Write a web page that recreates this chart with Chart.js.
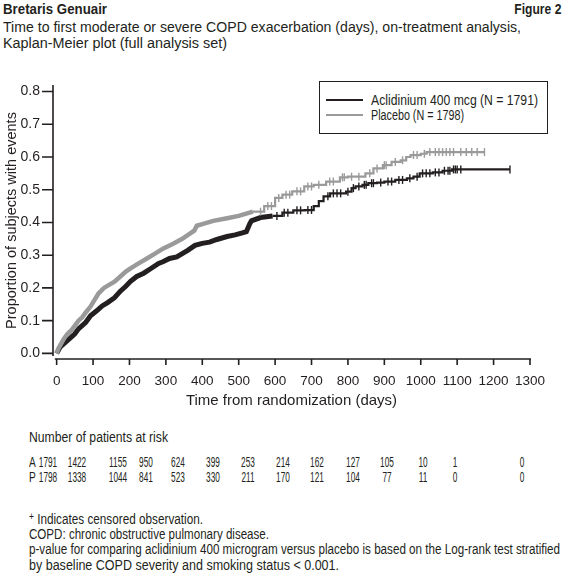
<!DOCTYPE html>
<html>
<head>
<meta charset="utf-8">
<script src="https://cdn.jsdelivr.net/npm/chart.js@4.4.1/dist/chart.umd.min.js"></script>
<style>
  body { margin: 0; width: 562px; height: 581px; background: #fff; position: relative; overflow: hidden;
         font-family: "Liberation Sans", Arial, sans-serif; color: #231f20; }
  .t { position: absolute; white-space: nowrap; line-height: 16px; transform-origin: left center; }
  .r { transform-origin: right center; }
  #chart { position: absolute; left: 0; top: 0; }
  .legend { position: absolute; left: 319px; top: 81px; width: 227px; height: 51px; border: 1px solid #231f20; background: #fff; }
  .legend .sw { position: absolute; left: 6px; width: 37px; height: 0; border-top: 2.5px solid; }
  .num { position: absolute; white-space: nowrap; font-size: 14.5px; line-height: 16px; transform-origin: center center; }
</style>
</head>
<body>
<div class="t" data-w="104" style="left:3px;top:1px;font-size:15px;font-weight:bold;">Bretaris Genuair</div>
<div class="t r" data-w="47" style="right:1px;top:1px;font-size:15px;font-weight:bold;">Figure 2</div>
<div class="t" data-w="518" style="left:3px;top:19px;font-size:15.5px;">Time to first moderate or severe COPD exacerbation (days), on-treatment analysis,</div>
<div class="t" data-w="224" style="left:3px;top:35px;font-size:15.5px;">Kaplan-Meier plot (full analysis set)</div>

<canvas id="chart" width="562" height="420"></canvas>

<div class="legend">
  <div class="sw" style="top:17px;border-color:#231f20"></div>
  <div class="t" id="lgA" data-w="167" style="left:51px;top:10px;font-size:15.5px;"></div>
  <div class="sw" style="top:32px;border-color:#9a9a9a"></div>
  <div class="t" id="lgP" data-w="93" style="left:51px;top:25px;font-size:15.5px;"></div>
</div>

<div class="t" data-w="139" style="left:29px;top:429px;font-size:14px;">Number of patients at risk</div>
<div id="risk"></div>

<div class="t" data-w="174" style="left:29px;top:511px;font-size:14px;"><span style="font-size:10px;position:relative;top:-4px;">+</span> Indicates censored observation.</div>
<div class="t" data-w="240" style="left:29px;top:526px;font-size:14px;">COPD: chronic obstructive pulmonary disease.</div>
<div class="t" data-w="531" style="left:29px;top:541px;font-size:14px;">p-value for comparing aclidinium 400 microgram versus placebo is based on the Log-rank test stratified</div>
<div class="t" data-w="310" style="left:29px;top:557px;font-size:14px;">by baseline COPD severity and smoking status &lt; 0.001.</div>

<script>
const FONT = '"Liberation Sans", Arial, sans-serif';
const INK = "#231f20";
const GREY = "#9a9a9a";

const seriesNames = ["Aclidinium 400 mcg (N = 1791)", "Placebo (N = 1798)"];

// Kaplan-Meier curves
const aclDays = [0, 5, 10, 20, 30, 40, 50, 60, 70, 80, 93, 110, 125, 140, 159, 175, 190, 203, 220, 239,
  260, 280, 292, 310, 330, 345, 360, 380, 400, 420, 440, 468, 490, 510, 521, 530, 535, 560, 593, 620,
  650, 681, 706, 720, 733, 751, 795, 810, 821, 840, 856, 880, 900, 930, 962, 980, 997, 1033, 1060, 1086, 1245];
const aclProp = [0, 0.01, 0.02, 0.03, 0.04, 0.05, 0.06, 0.075, 0.085, 0.095, 0.115, 0.13, 0.145, 0.155, 0.17, 0.19, 0.205, 0.22, 0.235, 0.245,
  0.26, 0.275, 0.28, 0.29, 0.295, 0.305, 0.315, 0.33, 0.336, 0.34, 0.348, 0.357, 0.362, 0.368, 0.372, 0.395, 0.405, 0.415, 0.42, 0.43,
  0.437, 0.438, 0.45, 0.465, 0.48, 0.489, 0.494, 0.505, 0.51, 0.515, 0.52, 0.522, 0.525, 0.53, 0.535, 0.54, 0.55, 0.553, 0.558, 0.562, 0.562];

const plaDays = [0, 5, 10, 20, 30, 40, 50, 60, 70, 80, 93, 105, 115, 130, 145, 159, 175, 190, 203, 225,
  248, 270, 292, 320, 345, 365, 378, 385, 400, 430, 468, 500, 539, 570, 600, 620, 647, 680, 706, 740,
  778, 800, 848, 870, 896, 920, 945, 960, 972, 1000, 1016, 1175];
const plaProp = [0, 0.015, 0.025, 0.045, 0.06, 0.07, 0.085, 0.1, 0.11, 0.125, 0.143, 0.165, 0.183, 0.2, 0.21, 0.219, 0.235, 0.25, 0.26, 0.275,
  0.29, 0.305, 0.32, 0.335, 0.35, 0.365, 0.375, 0.39, 0.395, 0.405, 0.413, 0.42, 0.433, 0.45, 0.475, 0.485, 0.495, 0.51, 0.515, 0.525,
  0.538, 0.54, 0.55, 0.565, 0.575, 0.585, 0.59, 0.6, 0.606, 0.61, 0.615, 0.615];

// censored observations (+)
const aclCensorDays = [605, 625, 635, 660, 670, 690, 700, 745, 760, 770, 780, 800, 815, 830, 845, 850, 865, 870, 890, 910,
  920, 940, 950, 970, 990, 1005, 1015, 1025, 1040, 1050, 1065, 1075, 1080, 1090, 1095, 1100, 1110, 1245];
const aclCensorProp = [0.42, 0.43, 0.43, 0.437, 0.437, 0.438, 0.438, 0.48, 0.489, 0.489, 0.489, 0.494, 0.505, 0.51, 0.515, 0.515, 0.52, 0.52, 0.522, 0.525,
  0.525, 0.53, 0.53, 0.535, 0.54, 0.55, 0.55, 0.55, 0.553, 0.553, 0.558, 0.558, 0.558, 0.562, 0.562, 0.562, 0.562, 0.562];
const plaCensorDays = [560, 580, 590, 610, 630, 640, 660, 670, 690, 700, 720, 750, 760, 785, 790, 810, 830, 860, 880, 900,
  905, 930, 950, 980, 990, 1010, 1025, 1040, 1050, 1060, 1070, 1080, 1090, 1110, 1125, 1140, 1155, 1175];
const plaCensorProp = [0.433, 0.45, 0.45, 0.475, 0.485, 0.485, 0.495, 0.495, 0.51, 0.51, 0.515, 0.525, 0.525, 0.538, 0.538, 0.54, 0.54, 0.55, 0.565, 0.575,
  0.575, 0.585, 0.59, 0.606, 0.606, 0.61, 0.615, 0.615, 0.615, 0.615, 0.615, 0.615, 0.615, 0.615, 0.615, 0.615, 0.615, 0.615];

const xTicks = [0, 100, 200, 300, 400, 500, 600, 700, 800, 900, 1000, 1100, 1200, 1300];
const yTicks = [0, 0.1, 0.2, 0.3, 0.4, 0.5, 0.6, 0.7, 0.8];

const riskA = [1791, 1422, 1155, 950, 624, 399, 253, 214, 162, 127, 105, 10, 1, 0];
const riskP = [1798, 1338, 1044, 841, 523, 330, 211, 170, 121, 104, 77, 11, 0, 0];
const riskCols = [47.5, 77, 117.5, 146, 177.5, 213, 248, 283, 317, 353, 387, 422.5, 455, 522];

// the early part has hundreds of tiny steps, so it is drawn as a thick line
const ACL_SPLIT = 593;
const PLA_SPLIT = 539;

function pts(xs, ys, from, to) {
  const out = [];
  xs.forEach((d, i) => {
    if (d >= from && d <= to) out.push({ x: d, y: ys[i] });
  });
  return out;
}

document.getElementById("lgA").textContent = seriesNames[0];
document.getElementById("lgP").textContent = seriesNames[1];

function risk_rows() {
  const box = document.getElementById("risk");
  [["A", riskA, 454], ["P", riskP, 469]].forEach(([tag, vals, top]) => {
    const l = document.createElement("div");
    l.className = "t";
    l.style.cssText = `left:29px;top:${top}px;font-size:14.5px;transform:scaleX(0.7);`;
    l.textContent = tag;
    box.appendChild(l);
    vals.forEach((v, i) => {
      const n = document.createElement("div");
      n.className = "num";
      n.style.left = riskCols[i] + "px";
      n.style.top = top + "px";
      n.style.transform = "translateX(-50%) scaleX(0.57)";
      n.textContent = v;
      box.appendChild(n);
    });
  });
}
risk_rows();

// squeeze the text to the condensed widths of the original
function fit_text() {
  document.querySelectorAll("[data-w]").forEach((el) => {
    const w = el.getBoundingClientRect().width;
    el.style.transform = `scaleX(${Number(el.dataset.w) / w})`;
  });
}
fit_text();

// axes drawn apart from each other like the original
const axisLines = {
  id: "axisLines",
  afterDraw(chart) {
    const { ctx, chartArea, scales } = chart;
    const x = scales.x, y = scales.y;
    ctx.save();
    ctx.strokeStyle = INK;
    ctx.lineWidth = 1.6;
    const left = chartArea.left;
    ctx.beginPath();
    ctx.moveTo(left, chartArea.top);
    ctx.lineTo(left, chartArea.bottom);
    yTicks.forEach((v) => {
      const py = y.getPixelForValue(v);
      ctx.moveTo(left - 11, py);
      ctx.lineTo(left, py);
    });
    const base = chartArea.bottom + 3;
    ctx.moveTo(x.getPixelForValue(-5), base);
    ctx.lineTo(x.getPixelForValue(1300) + 1, base);
    xTicks.forEach((d) => {
      const px = x.getPixelForValue(d);
      ctx.moveTo(px, base);
      ctx.lineTo(px, base + 6);
    });
    ctx.stroke();
    ctx.restore();
  },
};

Chart.defaults.font.family = FONT;
Chart.defaults.color = INK;

const lineBase = { pointRadius: 0, fill: false, tension: 0 };
const censorBase = { showLine: false, pointStyle: "line", rotation: 90, pointRadius: 4, borderWidth: 1.4 };

new Chart(document.getElementById("chart"), {
  type: "line",
  data: {
    datasets: [
      { ...lineBase, label: seriesNames[1], data: pts(plaDays, plaProp, 0, PLA_SPLIT), borderColor: GREY, borderWidth: 4.5 },
      { ...lineBase, label: seriesNames[1], data: pts(plaDays, plaProp, PLA_SPLIT, 99999), borderColor: GREY, borderWidth: 2.2, stepped: true },
      { ...censorBase, label: "censored P", data: pts(plaCensorDays, plaCensorProp, 0, 99999), borderColor: GREY },
      { ...lineBase, label: seriesNames[0], data: pts(aclDays, aclProp, 0, ACL_SPLIT), borderColor: INK, borderWidth: 5 },
      { ...lineBase, label: seriesNames[0], data: pts(aclDays, aclProp, ACL_SPLIT, 99999), borderColor: INK, borderWidth: 2.2, stepped: true },
      { ...censorBase, label: "censored A", data: pts(aclCensorDays, aclCensorProp, 0, 99999), borderColor: INK },
    ],
  },
  options: {
    responsive: false,
    animation: false,
    layout: { padding: { left: 0, top: 85, right: 15, bottom: 8 } },
    plugins: { legend: { display: false }, tooltip: { enabled: false } },
    scales: {
      x: {
        type: "linear",
        min: -10,
        max: 1300,
        grid: { display: false, drawTicks: false },
        border: { display: false },
        afterBuildTicks: (s) => { s.ticks = xTicks.map((v) => ({ value: v })); },
        afterFit: (s) => { s.height = 56; },
        ticks: { padding: 17, font: { size: 13.5 }, maxRotation: 0, autoSkip: false, callback: (v) => String(v) },
        title: { display: true, text: "Time from randomization (days)", font: { size: 15 }, padding: { top: 0, bottom: 2 } },
      },
      y: {
        min: -0.008,
        max: 0.82,
        grid: { display: false, drawTicks: false },
        border: { display: false },
        afterBuildTicks: (s) => { s.ticks = yTicks.map((v) => ({ value: v })); },
        afterFit: (s) => { s.width = 53; },
        ticks: { padding: 13, font: { size: 14 }, callback: (v) => v.toFixed(1) },
        title: { display: true, text: "Proportion of subjects with events", font: { size: 14.5 }, padding: { top: 3, bottom: 0 } },
      },
    },
  },
  plugins: [axisLines],
});
</script>
</body>
</html>
